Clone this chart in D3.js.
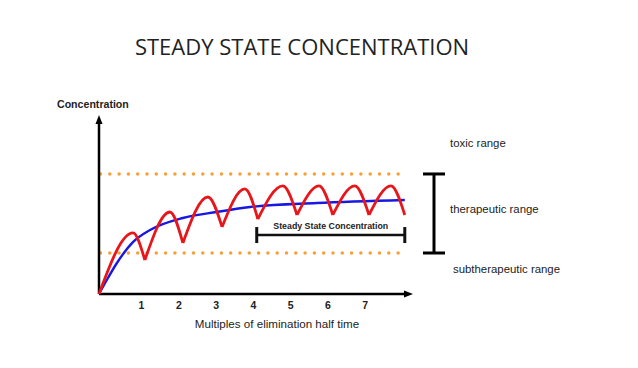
<!DOCTYPE html>
<html>
<head>
<meta charset="utf-8">
<script src="https://cdn.jsdelivr.net/npm/d3@7"></script>
<style>
  html, body { margin: 0; padding: 0; background: #fff; }
  svg { display: block; }
</style>
</head>
<body>
<div id="chart"></div>
<script>
// === DATA ===
const xTicks = [1, 2, 3, 4, 5, 6, 7];

// red: dosing curve, trough -> peak -> trough per dose
const doseTimes  = [-0.14, 1.09, 2.11, 3.16, 4.12, 5.17, 6.13, 7.10, 8.06];
const troughConc = [0, 1.93, 2.90, 3.81, 4.26, 4.49, 4.49, 4.49, 4.49];
const peakTimes  = [0.77, 1.76, 2.78, 3.77, 4.79, 5.76, 6.72, 7.69];
const peakConc   = [3.47, 4.66, 5.51, 5.97, 6.14, 6.14, 6.14, 6.14];

// blue: average concentration
const avgTimes = [-0.14, 0.10, 0.34, 0.77, 1.23, 2.11, 3.02, 3.91, 5.70, 8.06];
const avgConc  = [0, 0.91, 1.76, 2.95, 3.64, 4.32, 4.66, 4.94, 5.17, 5.34];

const toxicLevel = 6.82;
const subLevel = 2.33;
const steadyRange = [4.09, 8.06];
const steadyLevel = 3.35;

const rangeLabels = ["toxic range", "therapeutic range", "subtherapeutic range"];

// === SETUP ===
const W = 638, H = 368;
const svg = d3.select("#chart").append("svg")
    .attr("width", W)
    .attr("height", H);

const x = d3.scaleLinear().domain([-0.14, 8.2]).range([99, 410]);
const y = d3.scaleLinear().domain([0, 10]).range([294, 118]);

const font = "'Liberation Sans', Arial, sans-serif";

// title
svg.append("text")
    .attr("x", 302)
    .attr("y", 55)
    .attr("text-anchor", "middle")
    .attr("font-family", "'Open Sans', sans-serif")
    .attr("font-size", "22px")
    .attr("fill", "#222")
    .text("STEADY STATE CONCENTRATION");

// === DOTTED RANGE LINES ===
[toxicLevel, subLevel].forEach(v => {
    svg.append("line")
        .attr("x1", x(-0.1))
        .attr("x2", x(8.06))
        .attr("y1", y(v))
        .attr("y2", y(v))
        .attr("stroke", "#f6a036")
        .attr("stroke-width", 3.5)
        .attr("stroke-linecap", "round")
        .attr("stroke-dasharray", "0 9.3");
});

// === AXES ===
const x0 = x.range()[0], y0 = y.range()[0];
svg.append("line")
    .attr("x1", x0).attr("y1", y0)
    .attr("x2", x0).attr("y2", y.range()[1] + 4)
    .attr("stroke", "#000").attr("stroke-width", 2.5);
svg.append("path")
    .attr("d", `M${x0 - 3.5},${y.range()[1] + 6} L${x0},${y.range()[1] - 3} L${x0 + 3.5},${y.range()[1] + 6} Z`)
    .attr("fill", "#000");

svg.append("line")
    .attr("x1", x0).attr("y1", y0)
    .attr("x2", x.range()[1] - 4).attr("y2", y0)
    .attr("stroke", "#000").attr("stroke-width", 2.5);
svg.append("path")
    .attr("d", `M${x.range()[1] - 6},${y0 - 3.5} L${x.range()[1] + 3},${y0} L${x.range()[1] - 6},${y0 + 3.5} Z`)
    .attr("fill", "#000");

svg.selectAll(".tick-label")
    .data(xTicks)
    .join("text")
    .attr("class", "tick-label")
    .attr("x", d => x(d))
    .attr("y", 309)
    .attr("text-anchor", "middle")
    .attr("font-family", font)
    .attr("font-size", "10.5px")
    .attr("font-weight", "bold")
    .attr("fill", "#222")
    .text(d => d);

svg.append("text")
    .attr("x", 277)
    .attr("y", 328)
    .attr("text-anchor", "middle")
    .attr("font-family", font)
    .attr("font-size", "11.6px")
    .attr("fill", "#222")
    .text("Multiples of elimination half time");

svg.append("text")
    .attr("x", 57)
    .attr("y", 108)
    .attr("font-family", font)
    .attr("font-size", "10.6px")
    .attr("font-weight", "bold")
    .attr("fill", "#222")
    .text("Concentration");

// === BLUE AVERAGE CURVE ===
const avgData = avgTimes.map((t, i) => [t, avgConc[i]]);
svg.append("path")
    .datum(avgData)
    .attr("fill", "none")
    .attr("stroke", "#1818e0")
    .attr("stroke-width", 2.4)
    .attr("d", d3.line()
        .x(d => x(d[0]))
        .y(d => y(d[1]))
        .curve(d3.curveMonotoneX));

// === RED DOSING CURVE ===
const cycles = peakTimes.map((pt, i) => [
    [doseTimes[i], troughConc[i]],
    [pt, peakConc[i]],
    [doseTimes[i + 1], troughConc[i + 1]]
]);
const redLine = d3.line()
    .x(d => x(d[0]))
    .y(d => y(d[1]))
    .curve(d3.curveMonotoneX);
svg.selectAll(".dose")
    .data(cycles)
    .join("path")
    .attr("class", "dose")
    .attr("fill", "none")
    .attr("stroke", "#e8161a")
    .attr("stroke-width", 2.8)
    .attr("stroke-linejoin", "round")
    .attr("d", redLine);

// === STEADY STATE BRACKET ===
const sy = y(steadyLevel);
svg.append("line")
    .attr("x1", x(steadyRange[0])).attr("x2", x(steadyRange[1]))
    .attr("y1", sy).attr("y2", sy)
    .attr("stroke", "#111").attr("stroke-width", 2.5);
steadyRange.forEach(v => {
    svg.append("line")
        .attr("x1", x(v)).attr("x2", x(v))
        .attr("y1", sy - 8).attr("y2", sy + 8)
        .attr("stroke", "#111").attr("stroke-width", 3);
});
svg.append("text")
    .attr("x", (x(steadyRange[0]) + x(steadyRange[1])) / 2)
    .attr("y", sy - 6)
    .attr("text-anchor", "middle")
    .attr("font-family", font)
    .attr("font-size", "8.8px")
    .attr("font-weight", "bold")
    .attr("fill", "#222")
    .text("Steady State Concentration");

// === THERAPEUTIC RANGE BRACKET ===
const bx = 434;
svg.append("line")
    .attr("x1", bx).attr("x2", bx)
    .attr("y1", y(toxicLevel)).attr("y2", y(subLevel))
    .attr("stroke", "#000").attr("stroke-width", 3);
[toxicLevel, subLevel].forEach(v => {
    svg.append("line")
        .attr("x1", bx - 11).attr("x2", bx + 11)
        .attr("y1", y(v)).attr("y2", y(v))
        .attr("stroke", "#000").attr("stroke-width", 3);
});

const labelPos = [[450, 147], [450, 213], [453, 273]];
svg.selectAll(".range-label")
    .data(rangeLabels)
    .join("text")
    .attr("class", "range-label")
    .attr("x", (d, i) => labelPos[i][0])
    .attr("y", (d, i) => labelPos[i][1])
    .attr("font-family", font)
    .attr("font-size", "11.4px")
    .attr("fill", "#222")
    .text(d => d);
</script>
</body>
</html>
